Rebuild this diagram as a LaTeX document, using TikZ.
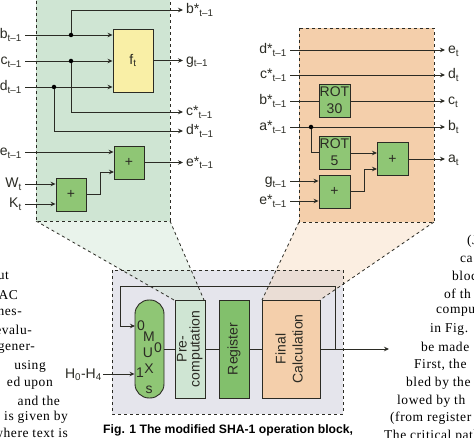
\documentclass[tikz,border=0pt]{standalone}
\usepackage{fontspec}
\setmainfont{Liberation Sans}
\newfontfamily\bodyserif[LetterSpace=4]{Liberation Serif}
\usetikzlibrary{arrows.meta, positioning, calc}
\definecolor{ink}{HTML}{2B2B24}
\definecolor{panelg}{HTML}{CFE5D3}
\definecolor{panelo}{HTML}{F4CFAB}
\definecolor{fillbox}{HTML}{E5E5EC}
\definecolor{addg}{HTML}{8FC675}
\definecolor{regg}{HTML}{82C06C}
\definecolor{fyel}{HTML}{F9EFA6}
\newcommand{\subt}[1]{\textsubscript{#1}}

\begin{document}
\begin{tikzpicture}[x=1pt, y=-1pt, line cap=butt,
    every node/.style={text=ink},
    wire/.style={ink, line width=0.9pt},
    flow/.style={-{Stealth[length=5pt, width=4.5pt]}, line width=0.9pt, ink},
    dashline/.style={ink, line width=0.8pt, dash pattern=on 3pt off 3pt},
    lab/.style={font=\fontsize{14}{16}\selectfont, text height=10pt, text depth=2pt, inner xsep=3pt, inner ysep=0pt},
    inlab/.style={lab, anchor=east},
    outlab/.style={lab, anchor=west},
    blockbox/.style={draw=ink, line width=0.9pt, inner sep=0pt, align=center, font=\fontsize{14}{16}\selectfont},
    addbox/.style={blockbox, fill=addg, minimum width=30pt, minimum height=33pt},
    dot/.style={circle, fill=black, inner sep=0pt, minimum size=4.5pt},
    bodytext/.style={font=\bodyserif\fontsize{13.5}{15}\selectfont, text=black, inner sep=0pt},
    capt/.style={font=\fontsize{12.2}{14}\selectfont\bfseries, text=black, inner sep=0pt}
]

% ---------------- canvas, white ----------------
\clip (0,0) rectangle (474,438);
\fill[white] (0,0) rectangle (474,438);

% ================= operation block, below =================
\fill[fillbox] (112,270) rectangle (343,414);
\fill[panelg, fill opacity=0.45] (36,221) -- (174,300) -- (204,300) -- (170,221) -- cycle;
\fill[panelo, fill opacity=0.35] (299,222) -- (262,300) -- (320,300) -- (434,222) -- cycle;
\draw[dashline] (112,270) rectangle (343,414);
\draw[dashline] (36,221) -- (174,300);
\draw[dashline] (170,221) -- (204,300);
\draw[dashline] (299,222) -- (262,300);
\draw[dashline] (434,222) -- (320,300);

\node[blockbox, fill=addg, minimum width=29pt, minimum height=98pt, rounded corners=14pt] (mux) at (149.5,349) {};
\node[blockbox, fill=panelg, minimum width=30pt, minimum height=98pt] (pre) at (190,349)
    {\rotatebox{90}{\begin{tabular}{@{}c@{}}Pre-\\[-3pt]computation\end{tabular}}};
\node[blockbox, fill=regg, minimum width=30pt, minimum height=98pt] (reg) at (234,349)
    {\rotatebox{90}{Register}};
\node[blockbox, fill=panelo, minimum width=58pt, minimum height=98pt] (final) at (291,349)
    {\rotatebox{90}{\begin{tabular}{@{}c@{}}Final\\[1pt]Calculation\end{tabular}}};

% mux letters
\foreach \nm/\xx/\yy/\txt in {mm/149/337/M, mu/148/353/U, mx/149/369/X, mzero/141/326/0, mout/158/348/0, mone/140/373/1, ms/149/390/s} {
    \node[font=\fontsize{14}{16}\selectfont, inner sep=0pt] (\nm) at (\xx,\yy) {\txt};
}

% wires through the block
\draw[wire] (mux.east) -- (pre.west);
\draw[wire] (pre.east) -- (reg.west);
\draw[wire] (reg.east) -- (final.west);
\coordinate (tap) at (335,349);
\coordinate (fbtop) at (120,286);
\coordinate (muxa) at (135,326);
\coordinate (blockout) at (389,349);
\draw[flow] (final.east) -- (blockout);
\draw[flow] (tap) |- (fbtop) |- (muxa);

\node[inlab, inner xsep=1pt] (hin) at (103,374) {H\subt{0}-H\subt{4}};
\draw[flow] (hin.east) -- (mux.west |- hin.east);

% ================= left panel: pre-computation =================
\fill[panelg] (36,-5) rectangle (170,221);
\draw[dashline] (36,-5) -- (36,221) -- (170,221) -- (170,-5);

\node[blockbox, fill=fyel, minimum width=40pt, minimum height=63pt] (ft) at (133,60.5) {f\subt{t}};
\node[addbox] (addl) at (129,162.5) {+};
\node[addbox] (adde) at (71,194.5) {+};

\node[inlab] (bin) at (25,35) {b\subt{t--1}};
\node[inlab] (cin) at (25,61) {c\subt{t--1}};
\node[inlab] (din) at (25,87) {d\subt{t--1}};
\node[inlab] (ein) at (25,152) {e\subt{t--1}};
\node[inlab] (win) at (25,184) {W\subt{t}};
\node[inlab] (kin) at (25,204) {K\subt{t}};

\node[outlab] (bout) at (183,10) {b*\subt{t--1}};
\node[outlab] (gout) at (183,60.5) {g\subt{t--1}};
\node[outlab] (cout) at (183,112) {c*\subt{t--1}};
\node[outlab] (dout) at (183,131) {d*\subt{t--1}};
\node[outlab] (eout) at (183,162.5) {e*\subt{t--1}};

\draw[flow] (bin.east) -- (ft.west |- bin.east);
\draw[flow] (cin.east) -- (ft.west |- cin.east);
\draw[flow] (din.east) -- (ft.west |- din.east);
\draw[flow] (ein.east) -- (addl.west |- ein.east);
\draw[flow] (win.east) -- (adde.west |- win.east);
\draw[flow] (kin.east) -- (adde.west |- kin.east);
\draw[flow] (ft.east) -- (gout.west);
\draw[flow] (addl.east) -- (eout.west);

\node[dot] (dotb) at (71,35) {};
\node[dot] (dotc) at (71,61) {};
\node[dot] (dotd) at (54,87) {};
\draw[flow] (dotb) |- (bout.west);
\draw[flow] (dotc) |- (cout.west);
\draw[flow] (dotd) |- (dout.west);

\coordinate (addin) at (114,172);
\coordinate (addknee) at (100,194.5);
\draw[flow] (adde.east) -- (addknee) |- (addin);

% ================= right panel: final calculation =================
\fill[panelo] (299,28) rectangle (434,222);
\draw[dashline] (299,28) rectangle (434,222);

\node[addbox, minimum width=31pt] (rotb) at (334.5,100.5) {ROT\\[1pt]30};
\node[addbox, minimum width=31pt] (rota) at (334.5,152.5) {ROT\\[1pt]5};
\node[addbox, minimum width=31pt] (addg) at (334.5,191.5) {+};
\node[addbox, minimum width=31pt] (addr) at (392.5,159) {+};

\node[inlab] (ds) at (290,50) {d*\subt{t--1}};
\node[inlab] (cs) at (290,75) {c*\subt{t--1}};
\node[inlab] (bs) at (290,101) {b*\subt{t--1}};
\node[inlab] (as) at (290,127) {a*\subt{t--1}};
\node[inlab] (gs) at (290,181) {g\subt{t--1}};
\node[inlab] (es) at (290,201) {e*\subt{t--1}};

\node[outlab] (et) at (445,50) {e\subt{t}};
\node[outlab] (dt) at (445,75) {d\subt{t}};
\node[outlab] (ct) at (445,101) {c\subt{t}};
\node[outlab] (bt) at (445,127) {b\subt{t}};
\node[outlab] (at) at (445,159) {a\subt{t}};

\draw[flow] (ds.east) -- (et.west);
\draw[flow] (cs.east) -- (dt.west);
\draw[wire] (bs.east) -- (rotb.west |- bs.east);
\draw[flow] (rotb.east |- ct.west) -- (ct.west);
\draw[flow] (as.east) -- (bt.west);
\draw[flow] (gs.east) -- (addg.west |- gs.east);
\draw[flow] (es.east) -- (addg.west |- es.east);
\draw[flow] (addr.east) -- (at.west);

\node[dot] (dota) at (311,127) {};
\draw[wire] (dota) |- (rota.west);
\coordinate (addrtop) at (377,153);
\coordinate (addrlow) at (377,169);
\coordinate (addrknee) at (364,191.5);
\draw[flow] (rota.east |- addrtop) -- (addrtop);
\draw[flow] (addg.east) -- (addrknee) |- (addrlow);

% ---------------- caption ----------------
\node[capt, anchor=west] (caption) at (103,430) {Fig. 1 The modified SHA-1 operation block,};

% ---------------- column text either side ----------------
\foreach \nm/\xx/\yy/\txt in {la/9/276/ut, lb/18/295/AC, lc/22/312/nes-, ld/32/330/evalu-, le/35/348/gener-, lf/46/366/using,
        lg/53/383/ed upon, lh/60/401/and the, li/68/417/is given by, lj/68/433/where text is} {
    \node[bodytext, anchor=east] (\nm) at (\xx,\yy) {\txt};
}
\foreach \nm/\xx/\yy/\txt in {ra/467/241/(J, rb/460/259/ca, rc/452/276/bloc, rd/444/294/of th, re/436/312/compu, rf/430/329/in Fig.,
        rg/421/347/be made, rh/414/365/{First, the}, ri/406/383/bled by the, rj/397/401/lowed by th, rk/390/418/(from register, rl/384/436/The critical path} {
    \node[bodytext, anchor=west] (\nm) at (\xx,\yy) {\txt};
}

\end{tikzpicture}
\end{document}
